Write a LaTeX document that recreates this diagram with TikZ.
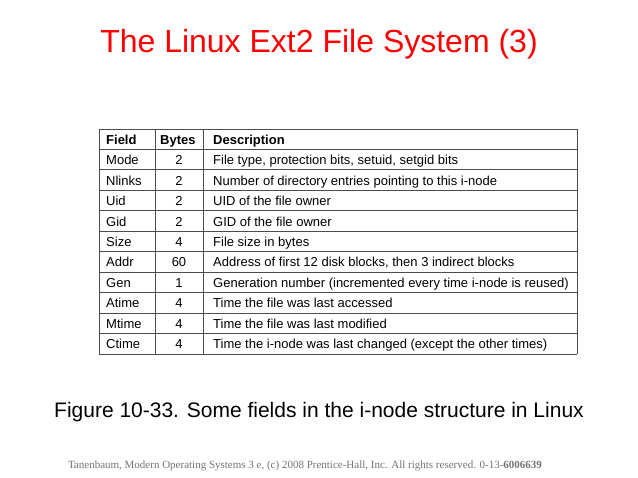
\documentclass[tikz,border=0pt]{standalone}
\usepackage{fontspec}
\setmainfont{Liberation Sans}
\newfontfamily\serif{Liberation Serif}
\begin{document}
\begin{tikzpicture}[x=1pt,y=-1pt,
  cell/.style={anchor=base west,font=\fontsize{13}{14}\selectfont,inner sep=0},
  num/.style={anchor=base,font=\fontsize{13}{14}\selectfont,inner sep=0},
  hd/.style={anchor=base west,font=\fontsize{13}{14}\selectfont\bfseries,inner sep=0},
  grid/.style={draw=black!70,line width=0.8pt}]
\useasboundingbox (0,0) rectangle (638,478);
\node[text=red,font=\fontsize{32}{34}\selectfont] (title) at (319,44) {The Linux Ext2 File System (3)};
\def\rh{20.45}
\foreach \i in {0,...,11} {\draw[grid] (99,{129+\i*\rh}) -- (577,{129+\i*\rh});}
\draw[grid] (99,129) -- (99,{129+11*\rh});
\draw[grid] (155,129) -- (155,{129+11*\rh});
\draw[grid] (203,129) -- (203,{129+11*\rh});
\draw[grid] (577,129) -- (577,{129+11*\rh});
\node[hd] (h1) at (106,{129+0.5*\rh+5}) {Field};
\node[hd] (h2) at (160,{129+0.5*\rh+5}) {Bytes};
\node[hd] (h3) at (213,{129+0.5*\rh+5}) {Description};
\foreach[count=\i] \f/\b/\d in {Mode/2/{File type, protection bits, setuid, setgid bits},
  Nlinks/2/{Number of directory entries pointing to this i-node},
  Uid/2/{UID of the file owner},
  Gid/2/{GID of the file owner},
  Size/4/{File size in bytes},
  Addr/60/{Address of first 12 disk blocks, then 3 indirect blocks},
  Gen/1/{Generation number (incremented every time i-node is reused)},
  Atime/4/{Time the file was last accessed},
  Mtime/4/{Time the file was last modified},
  Ctime/4/{Time the i-node was last changed (except the other times)}} {
  \node[cell] (f\i) at (106,{129+(\i+0.5)*\rh+5}) {\f};
  \node[num] (b\i) at (179,{129+(\i+0.5)*\rh+5}) {\b};
  \node[cell] (d\i) at (213,{129+(\i+0.5)*\rh+5}) {\d};
}
\node[font=\fontsize{21}{23}\selectfont] (cap) at (319,412) {Figure 10-33. Some fields in the i-node structure in Linux};
\node[text=black!55,font=\serif\fontsize{11}{12}\selectfont] (foot) at (305,466) {Tanenbaum, Modern Operating Systems 3 e, (c) 2008 Prentice-Hall, Inc. All rights reserved. 0-13-\textbf{6006639}};
\end{tikzpicture}
\end{document}
